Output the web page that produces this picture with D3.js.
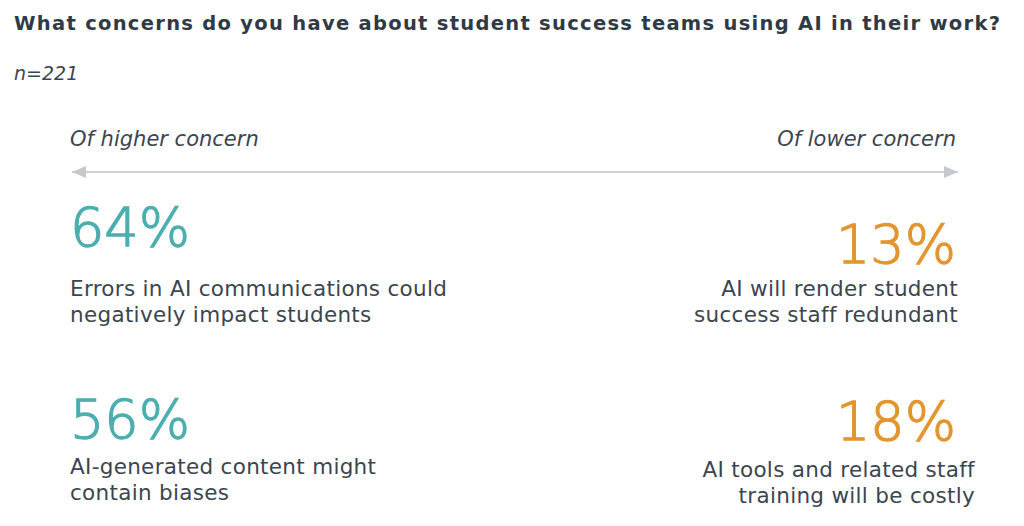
<!DOCTYPE html>
<html>
<head>
<meta charset="utf-8">
<script src="https://cdn.jsdelivr.net/npm/d3@7"></script>
<style>
  body { margin: 0; background: #fff; }
  svg { display: block; font-family: "DejaVu Sans", Verdana, sans-serif; }
</style>
</head>
<body>
<div id="chart"></div>
<script>
// chart data
const title = 'What concerns do you have about student success teams using AI in their work?';
const sampleNote = 'n=221';
const scaleEnds = ['Of higher concern', 'Of lower concern'];
const concerns = [
  ['Errors in AI communications could', 'negatively impact students'],
  ['AI-generated content might', 'contain biases'],
  ['AI will render student', 'success staff redundant'],
  ['AI tools and related staff', 'training will be costly'],
];
const shares = [64, 56, 13, 18];
const sides = ['higher', 'higher', 'lower', 'lower'];
const rows = [0, 1, 0, 1];

const width = 1024, height = 526;
const textColor = '#3b4550';

const svg = d3.select('#chart').append('svg')
  .attr('width', width)
  .attr('height', height);

const x = d3.scaleOrdinal().domain(['higher', 'lower']).range([70, 956]);
const anchor = d3.scaleOrdinal().domain(['higher', 'lower']).range(['start', 'end']);
const color = d3.scaleOrdinal().domain(['higher', 'lower']).range(['#4caeae', '#e3952f']);
const rowY = d3.scalePoint().domain([0, 1]).range([296, 474]);

// title + n
svg.append('text')
  .attr('x', 14).attr('y', 30)
  .attr('font-size', 19.5).attr('font-weight', 'bold')
  .attr('fill', '#2f3a45')
  .attr('textLength', 986).attr('lengthAdjust', 'spacing')
  .text(title);

svg.append('text')
  .attr('x', 14).attr('y', 80)
  .attr('font-size', 19).attr('font-style', 'italic')
  .attr('fill', textColor)
  .text(sampleNote);

// scale ends + double arrow
svg.selectAll('text.end')
  .data(scaleEnds)
  .join('text')
  .attr('class', 'end')
  .attr('x', (d, i) => x(['higher', 'lower'][i]))
  .attr('y', 146)
  .attr('text-anchor', (d, i) => anchor(['higher', 'lower'][i]))
  .attr('font-size', 21).attr('font-style', 'italic')
  .attr('fill', textColor)
  .text(d => d);

const defs = svg.append('defs');
defs.append('marker')
  .attr('id', 'head')
  .attr('viewBox', '0 0 14 12')
  .attr('refX', 14).attr('refY', 6)
  .attr('markerWidth', 14).attr('markerHeight', 12)
  .attr('markerUnits', 'userSpaceOnUse')
  .attr('orient', 'auto-start-reverse')
  .append('path')
  .attr('d', 'M0,0L14,6L0,12Z')
  .attr('fill', '#c5c9cd');

svg.append('line')
  .attr('x1', 72).attr('x2', 958)
  .attr('y1', 172).attr('y2', 172)
  .attr('stroke', '#cfd2d5').attr('stroke-width', 2)
  .attr('marker-start', 'url(#head)')
  .attr('marker-end', 'url(#head)');

// concern blocks
const numGap = [50, 36, 33, 37];
const labelShift = [0, 0, 2, 19];
const rowShift = [0, 0, 0, 3];

const items = concerns.map((lines, i) => ({
  lines, share: shares[i], side: sides[i], row: rows[i], i
}));

const g = svg.selectAll('g.item')
  .data(items)
  .join('g')
  .attr('class', 'item');

g.append('text')
  .attr('x', d => x(d.side))
  .attr('y', d => rowY(d.row) + rowShift[d.i] - numGap[d.i])
  .attr('text-anchor', d => anchor(d.side))
  .attr('font-size', 54)
  .attr('font-weight', 200)
  .attr('fill', d => color(d.side))
  .attr('stroke', d => color(d.side))
  .attr('stroke-width', 1.3)
  .text(d => d.share + '%');

g.append('text')
  .attr('text-anchor', d => anchor(d.side))
  .attr('font-size', 21.5)
  .attr('letter-spacing', 0.3)
  .attr('fill', textColor)
  .selectAll('tspan')
  .data(d => d.lines.map((t, k) => ({ t, k, d })))
  .join('tspan')
  .attr('x', o => x(o.d.side) + labelShift[o.d.i])
  .attr('y', o => rowY(o.d.row) + rowShift[o.d.i] + o.k * 25.5)
  .text(o => o.t);
</script>
</body>
</html>
